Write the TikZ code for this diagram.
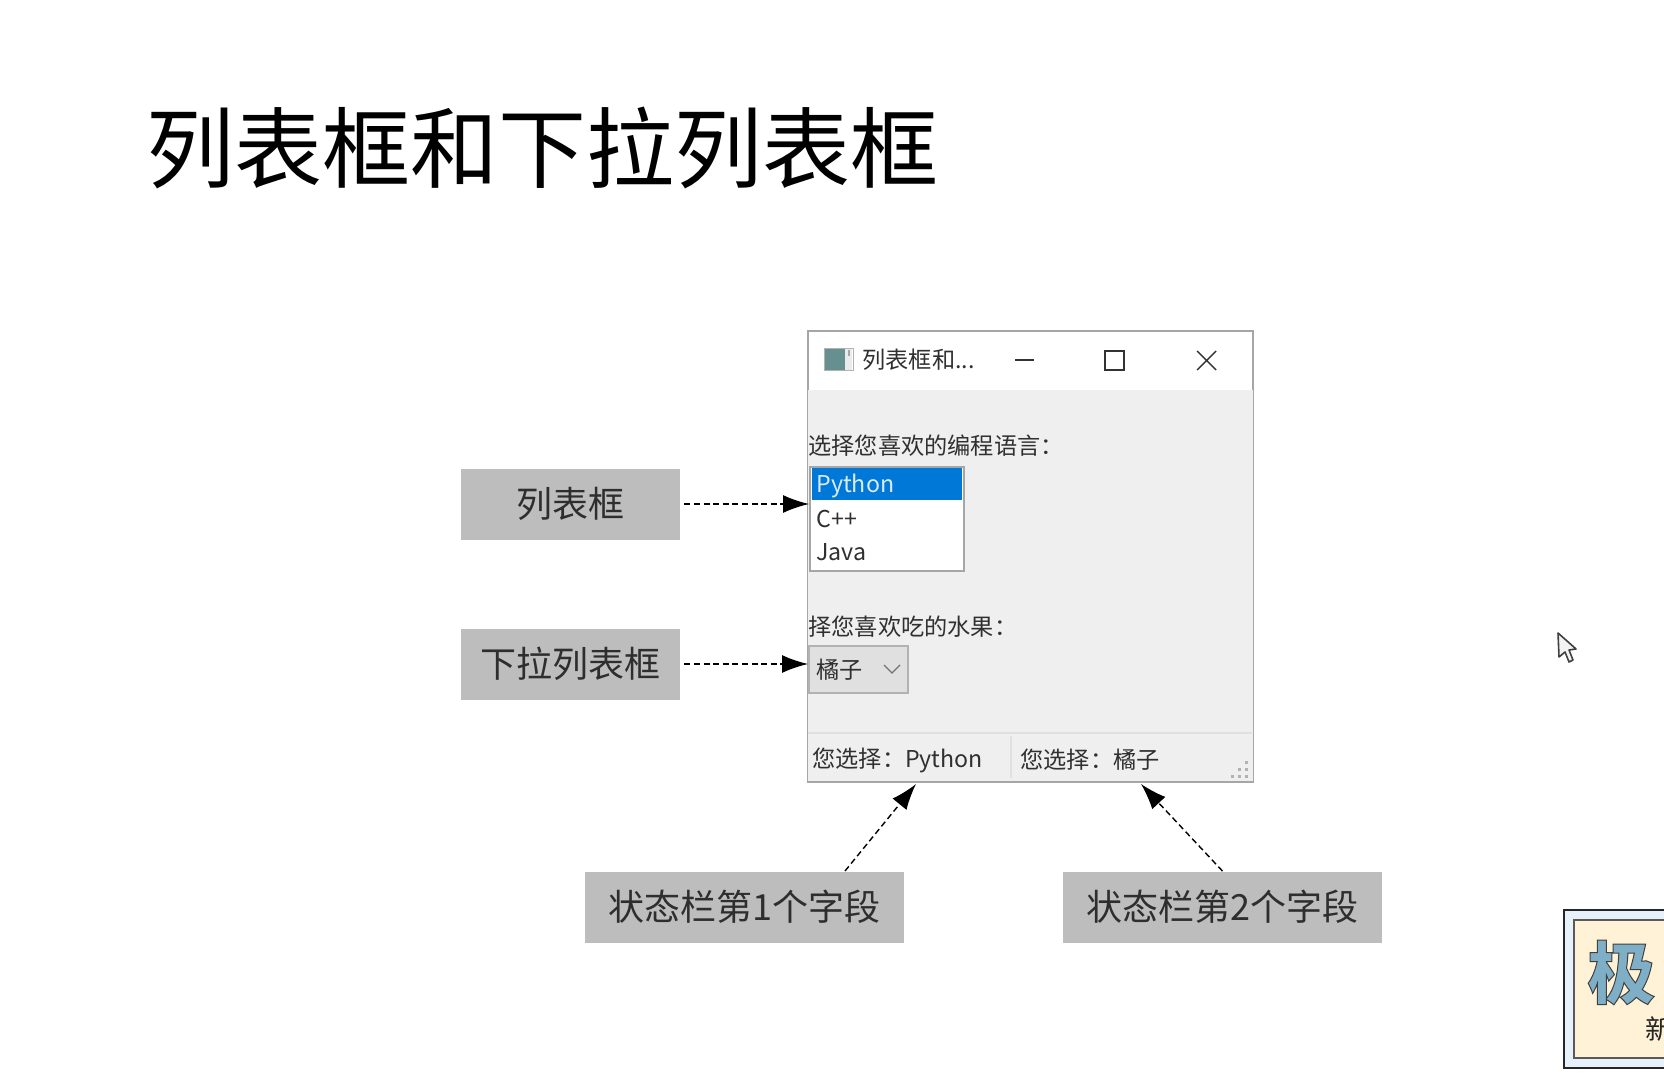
\documentclass[tikz,border=0pt]{standalone}
\usepackage{fontspec}
\setmainfont{Noto Sans CJK SC}
\usetikzlibrary{arrows.meta}
\definecolor{win-gray}{HTML}{EFEFEF}
\definecolor{win-border}{HTML}{A6A6A6}
\definecolor{win-text}{HTML}{303030}
\definecolor{pick-blue}{HTML}{0078D7}
\definecolor{logo-blue}{HTML}{7FAFC6}
\definecolor{logo-frame}{HTML}{E6F1FB}
\definecolor{logo-cream}{HTML}{FFF2D6}
\tikzset{
    label-box/.style = {fill=black!26, text=black!82, inner sep=0pt, minimum height=35.5pt, font=\fontsize{18}{20}\selectfont},
    win-text-node/.style = {anchor=west, inner sep=0pt, text=win-text, font=\fontsize{11.6}{13}\selectfont},
    win-line/.style = {draw=win-border, line width=0.7pt},
    win-button/.style = {draw=black!80, line width=0.7pt},
    pointer-arrow/.style = {dashed, dash pattern=on 3pt off 1.8pt, line width=0.7pt, -{Latex[length=13pt,width=9pt]}},
}
\begin{document}
\begin{tikzpicture}[x=0.5pt,y=-0.5pt]
\useasboundingbox (0,0) rectangle (1664,1080);
\clip (0,0) rectangle (1664,1080);
\fill[white] (0,0) rectangle (1664,1080);

\node[anchor=west, inner sep=0pt, font=\fontsize{44}{50}\selectfont] (title) at (146,148) {列表框和下拉列表框};

\node[win-line, fill=white, minimum width=222.3pt, minimum height=225pt, inner sep=0pt, anchor=north west] (window) at (807.5,330.5) {};
\fill[win-gray] (808,390) rectangle (1252.5,780.5);
\draw[win-line] (window.north west) rectangle (window.south east);

\node[fill=black!45!teal!60, minimum width=14pt, minimum height=11pt, inner sep=0pt] (appicon) at (838,359) {};
\fill[white!92!black] (845,348) rectangle (852,370);
\fill[black!35] (848,350) rectangle (850,356);
\draw[black!30] (824,348) rectangle (853,370);
\node[win-text-node] (wintitle) at (862,360) {列表框和...};
\draw[win-button] (1015,360) -- (1034,360);
\draw[win-button] (1105,351) rectangle (1124,370);
\draw[win-button] (1197,351) -- (1216,370) (1216,351) -- (1197,370);

\node[win-text-node] (langlabel) at (808,446) {选择您喜欢的编程语言：};
\node[draw=win-border, line width=1pt, fill=white, minimum width=77pt, minimum height=52pt, inner sep=0pt, anchor=north west] (listbox) at (809,465.5) {};
\fill[pick-blue] (812,468) rectangle (962,500);
\node[win-text-node, text=white!85!pick-blue] (python) at (816,486) {Python};
\node[win-text-node] (cpp) at (816,519) {C++};
\node[win-text-node] (java) at (816,552) {Java};

\node[win-text-node] (fruitlabel) at (808,627) {择您喜欢吃的水果：};
\node[draw=black!30, line width=1pt, fill=black!12, minimum width=49.5pt, minimum height=23.5pt, inner sep=0pt, anchor=north west] (combo) at (808,645) {};
\node[win-text-node] (orange) at (816,670) {橘子};
\draw[black!55, line width=0.6pt] (884,665) -- (892,673) -- (900,665);

\draw[black!12, line width=1pt] (808,733) -- (1252,733);
\draw[black!12, line width=1pt] (1011,736) -- (1011,778);
\node[win-text-node] (statusa) at (812,760) {您选择：Python};
\node[win-text-node] (statusb) at (1020,760) {您选择：橘子};
\foreach \gx/\gy in {1246/762,1246/769,1239/769,1246/776,1239/776,1232/776}
    \fill[black!30] (\gx-1.5,\gy-1.5) rectangle (\gx+1.5,\gy+1.5);

\node[label-box, minimum width=109.5pt] (listlabel) at (570.5,504) {列表框};
\node[label-box, minimum width=109.5pt] (combolabel) at (570.5,664) {下拉列表框};
\node[label-box, minimum width=159.5pt] (fielda) at (744.5,907) {状态栏第1个字段};
\node[label-box, minimum width=159.5pt] (fieldb) at (1222.5,907) {状态栏第2个字段};

\coordinate (tipa) at (916,784);
\coordinate (tipb) at (1141,784);
\coordinate (taila) at (845,871);
\draw[pointer-arrow, shorten <=2pt] (listlabel.east) -- (listlabel.east -| listbox.west);
\draw[pointer-arrow, shorten <=2pt] (combolabel.east) -- (combolabel.east -| combo.west);
\draw[pointer-arrow] (taila) -- (tipa);
\draw[pointer-arrow] (fieldb.north) -- (tipb);

\draw[black!75, fill=white!95!black, line width=0.8pt, line join=round] (1558,633) -- (1559,657) -- (1565,652) -- (1569,662) -- (1573,660) -- (1569,650) -- (1576,649) -- cycle;

\node[draw=black!85, fill=logo-frame, line width=1pt, minimum width=150pt, minimum height=79pt, inner sep=0pt, anchor=north west] (logoframe) at (1563,909) {};
\node[draw=black!65, fill=logo-cream, line width=0.8pt, minimum width=140pt, minimum height=69pt, inner sep=0pt, anchor=north west] (logoinner) at (1573,919) {};
\node[anchor=west, inner sep=0pt, text=logo-blue, font=\bfseries\fontsize{34}{38}\selectfont] (logomark) at (1587,972) {\special{pdf:code 2 Tr 0.5 w 0.25 G}极\hspace{4pt}客\special{pdf:code 0 Tr}};
\node[anchor=west, inner sep=0pt, text=black!85, font=\fontsize{13.5}{16}\selectfont] (logosub) at (1645,1029) {新};
\end{tikzpicture}
\end{document}
